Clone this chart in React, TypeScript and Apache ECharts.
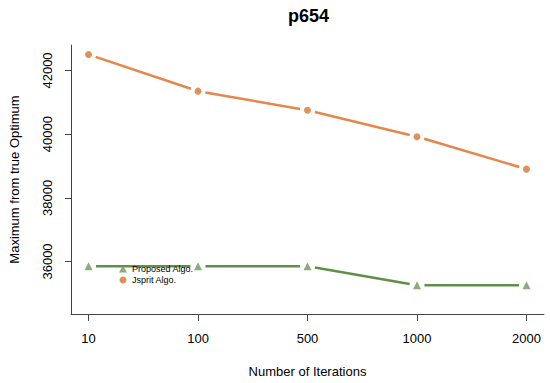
import React, { useEffect, useRef } from "react";
import * as echarts from "echarts";

const categories = ["10", "100", "500", "1000", "2000"];
const proposedAlgo = [35850, 35850, 35850, 35250, 35250];
const jspritAlgo = [42500, 41350, 40750, 39920, 38900];
const yTickValues = [36000, 38000, 40000, 42000];
const xTickValues = [0, 1, 2, 3, 4];

const FONT = "Liberation Sans, Arial, sans-serif";
const GREEN_LINE = "#5f8f4b";
const GREEN_MARK = "#6a9a58";
const ORANGE_LINE = "#e5874a";
const ORANGE_MARK = "#d9742f";
const GAP = 7.5;

export default function App() {
  const ref = useRef<HTMLDivElement>(null);

  useEffect(() => {
    document.body.style.margin = "0";
    if (!ref.current) return;
    const chart = echarts.init(ref.current, undefined, { renderer: "svg" });
    const toPts = (arr: number[]) => arr.map((v, i) => [i, v]);
    const toSegs = (arr: number[]) => arr.slice(0, -1).map((v, i) => [i, v, arr[i + 1]]);

    const segRender = (color: string) => (params: any, api: any) => {
      const x = api.value(0);
      const p0 = api.coord([x, api.value(1)]);
      const p1 = api.coord([x + 1, api.value(2)]);
      const dx = p1[0] - p0[0];
      const dy = p1[1] - p0[1];
      const len = Math.hypot(dx, dy) || 1;
      const ux = dx / len;
      const uy = dy / len;
      return {
        type: "line",
        shape: {
          x1: p0[0] + ux * GAP,
          y1: p0[1] + uy * GAP,
          x2: p1[0] - ux * GAP,
          y2: p1[1] - uy * GAP,
        },
        style: { stroke: color, lineWidth: 2.5, fill: null },
      };
    };

    const option: any = {
      animation: false,
      backgroundColor: "#ffffff",
      title: {
        text: "p654",
        left: 283,
        top: 2,
        textStyle: { fontFamily: FONT, fontSize: 18, fontWeight: "bold", color: "#000" },
      },
      legend: {
        orient: "vertical",
        left: 119,
        top: 264,
        padding: 0,
        itemWidth: 8,
        itemHeight: 7,
        itemGap: 1,
        selectedMode: false,
        textStyle: { fontFamily: FONT, fontSize: 9, color: "#000", lineHeight: 10 },
        data: [
          { name: "Proposed Algo.", icon: "triangle" },
          { name: "Jsprit Algo.", icon: "circle" },
        ],
      },
      grid: { left: 68, right: 6, top: 45, bottom: 68, containLabel: false },
      xAxis: {
        type: "value",
        min: -0.16,
        max: 4.16,
        name: "Number of Iterations",
        nameLocation: "middle",
        nameGap: 51,
        nameTextStyle: { fontFamily: FONT, fontSize: 13, color: "#000" },
        axisLine: { show: true, onZero: false, lineStyle: { color: "#444", width: 1 } },
        axisTick: { show: true, length: 7, customValues: xTickValues, lineStyle: { color: "#444" } },
        axisLabel: {
          customValues: xTickValues,
          margin: 18,
          fontFamily: FONT,
          fontSize: 13,
          color: "#000",
          formatter: (v: number) => categories[Math.round(v)] ?? "",
        },
        splitLine: { show: false },
      },
      yAxis: {
        type: "value",
        min: 34350,
        max: 42800,
        name: "Maximum from true Optimum",
        nameLocation: "middle",
        nameGap: 50,
        nameTextStyle: { fontFamily: FONT, fontSize: 13, color: "#000" },
        axisLine: { show: true, onZero: false, lineStyle: { color: "#444", width: 1 } },
        axisTick: { show: true, length: 6, customValues: yTickValues, lineStyle: { color: "#444" } },
        axisLabel: {
          customValues: yTickValues,
          rotate: 90,
          margin: 17,
          fontFamily: FONT,
          fontSize: 13,
          color: "#000",
          formatter: (v: number) => String(v),
        },
        splitLine: { show: false },
      },
      series: [
        {
          name: "jspritSegments",
          type: "custom",
          data: toSegs(jspritAlgo),
          encode: { x: 0, y: 1 },
          renderItem: segRender(ORANGE_LINE),
          silent: true,
          z: 2,
        },
        {
          name: "proposedSegments",
          type: "custom",
          data: toSegs(proposedAlgo),
          encode: { x: 0, y: 1 },
          renderItem: segRender(GREEN_LINE),
          silent: true,
          z: 2,
        },
        {
          name: "Jsprit Algo.",
          type: "scatter",
          data: toPts(jspritAlgo),
          symbol: "circle",
          symbolSize: 7,
          z: 4,
          itemStyle: { color: ORANGE_MARK },
        },
        {
          name: "Proposed Algo.",
          type: "scatter",
          data: toPts(proposedAlgo),
          symbol: "triangle",
          symbolSize: 8,
          z: 4,
          itemStyle: { color: GREEN_MARK },
        },
      ],
    };
    chart.setOption(option);
    return () => chart.dispose();
  }, []);

  return <div ref={ref} style={{ width: 550, height: 383 }} />;
}
